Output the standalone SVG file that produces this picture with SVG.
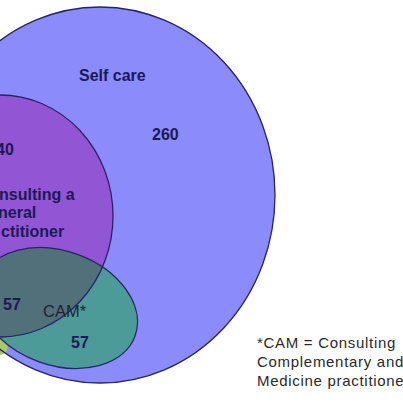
<svg xmlns="http://www.w3.org/2000/svg" width="403" height="403" viewBox="0 0 403 403">
<defs>
<style>
.lbl{font-family:"Liberation Sans",Arial,sans-serif;font-weight:bold;font-size:16px;fill:#1b1a55}
.cam{font-family:"Liberation Sans",Arial,sans-serif;font-size:16.5px;fill:#1e2430}
.leg{font-family:"Liberation Sans",Arial,sans-serif;font-size:15px;fill:#2a2a2a;letter-spacing:0.7px}
.edge{fill:none;stroke:#252566;stroke-width:1.3}
</style>
<clipPath id="camClip"><ellipse cx="58" cy="308" rx="82" ry="57" transform="rotate(20 58 308)"/></clipPath>
</defs>
<rect width="403" height="403" fill="#ffffff"/>
<g id="self-care">
<ellipse cx="100" cy="195" rx="175" ry="188" fill="#8b8bfb"/>
</g>
<g id="other-set">
<ellipse cx="-45" cy="332" rx="55" ry="20" transform="rotate(18 -45 332)" fill="#a8c86a"/>
</g>
<g id="gp">
<ellipse cx="0" cy="216" rx="113" ry="121" fill="#9256d4"/>
</g>
<g id="cam">
<ellipse cx="58" cy="308" rx="82" ry="57" transform="rotate(20 58 308)" fill="#4c9b99"/>
<ellipse cx="0" cy="216" rx="113" ry="121" fill="#51707a" clip-path="url(#camClip)"/>
</g>
<g id="connectors">
<ellipse class="edge" cx="100" cy="195" rx="175" ry="188"/>
<ellipse class="edge" cx="0" cy="216" rx="113" ry="121"/>
<ellipse class="edge" cx="58" cy="308" rx="82" ry="57" transform="rotate(20 58 308)"/>
</g>
<g id="labels">
<text class="lbl" x="79" y="81">Self care</text>
<text class="lbl" x="152" y="140">260</text>
<text class="lbl" x="-4" y="155">40</text>
<text class="lbl" x="-1" y="200">nsulting a</text>
<text class="lbl" x="-2" y="218">neral</text>
<text class="lbl" x="1" y="237">ctitioner</text>
<text class="lbl" x="3" y="310">57</text>
<text class="cam" x="43" y="317">CAM*</text>
<text class="lbl" x="71" y="348">57</text>
</g>
<g id="legend">
<text class="leg" x="257" y="348">*CAM = Consulting</text>
<text class="leg" x="257" y="367">Complementary and</text>
<text class="leg" x="257" y="386">Medicine practitioner</text>
</g>
</svg>
